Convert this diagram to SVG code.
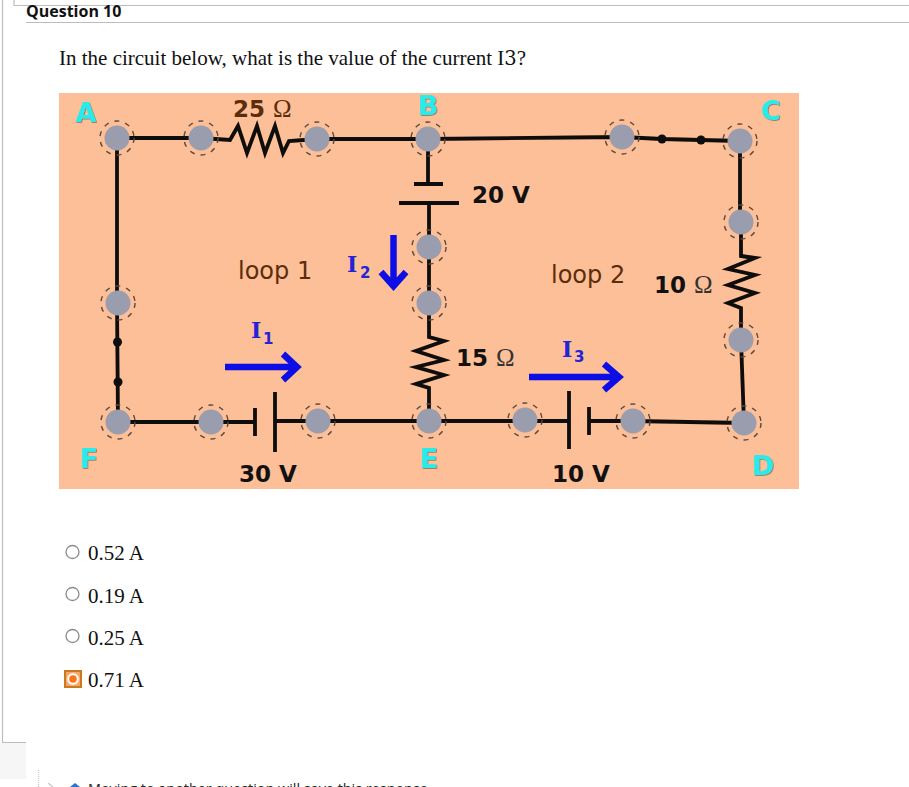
<svg xmlns="http://www.w3.org/2000/svg" width="909" height="787" viewBox="0 0 909 787">
<defs>
<filter id="soft" x="-20%" y="-20%" width="140%" height="140%"><feGaussianBlur stdDeviation="0.4"/></filter>
<filter id="sh" x="-20%" y="-20%" width="150%" height="150%"><feDropShadow dx="0.800" dy="0.800" stdDeviation="0.500" flood-color="#6b5a48" flood-opacity="0.800"/></filter>
<g id="pt"><circle r="17" fill="none" stroke="#5a4a40" stroke-width="1.400" stroke-dasharray="5 6"/><circle r="12.500" fill="#9a9dae"/></g>
</defs>
<style>
.w{fill:none;stroke:#0c0a08;stroke-width:3.800;stroke-linejoin:miter}
.b{fill:none;stroke:#0a0a0a;stroke-width:3.800}
.cur{fill:none;stroke:#0a0ae6;stroke-width:6.500}
.serif{font-family:"Liberation Serif",serif;fill:#111}
.val{font-family:"DejaVu Sans",sans-serif;font-weight:700;font-size:23px;fill:#111}
.om{font-family:"Liberation Serif",serif;font-weight:400;fill:#333}
.let{font-family:"DejaVu Sans",sans-serif;font-weight:700;font-size:27px;fill:#28ecec;text-anchor:middle;filter:url(#sh)}
.loop{font-family:"DejaVu Sans",sans-serif;font-size:24px;fill:#5c2d0c}
.ic{font-family:"DejaVu Serif",serif;font-weight:700;font-size:22px;fill:#2323d8}
.sub{font-family:"DejaVu Sans",sans-serif;font-weight:700;font-size:15px;fill:#2323d8}
.radio{fill:#fff;stroke:#8c8c8c;stroke-width:1.300}
</style>
<rect width="909" height="787" fill="#fff"/>
<g id="page">
<rect x="0" y="743" width="26" height="36" fill="#f6f6f6"/>
<path d="M14 0V5.500H909M2.500 0V742.500H26M26 22.500H909" fill="none" stroke="#bcbcbc" stroke-width="1.200"/>
<text x="26" y="17" font-family="'Open Sans',sans-serif" font-weight="700" font-size="16" fill="#111">Question 10</text>
<text class="serif" x="59" y="65" font-size="21">In the circuit below, what is the value of the current I<tspan font-family="'DejaVu Serif',serif" font-size="19.500">3</tspan>?</text>
<rect x="59" y="93" width="740" height="396" fill="#fdbf97"/>
<text x="88" y="794" font-family="'Open Sans',sans-serif" font-size="14.400" fill="#222">Moving to another question will save this response.</text>
<path d="M70 787L75 783L80 787Z" fill="#2a72d8"/>
<path d="M38.500 770V787" fill="none" stroke="#ccc" stroke-width="1.500" stroke-dasharray="1 1"/>
<path d="M48 783L53 787" fill="none" stroke="#ccc" stroke-width="1.500"/>
</g>
<g id="connectors" filter="url(#soft)">
<path class="w" d="M117 138H201L230 140L238 126L247 153L257 126L265 153L275 126L283 153L289 141L317 139H428L622 137L662 139L701 140L740 141"/>
<path class="w" d="M117 138V303L118 422"/>
<circle cx="117.500" cy="342" r="4.500" fill="#0c0a08"/><circle cx="118" cy="382" r="4.500" fill="#0c0a08"/>
<circle cx="662" cy="139" r="4.500" fill="#0c0a08"/><circle cx="701" cy="140" r="4.500" fill="#0c0a08"/>
<path class="w" d="M118 422H255M275 421H429H569M589 421H633L744 423"/>
<path class="b" d="M255 408V436M275 392V452M569 391V449M589 407V435"/>
<path class="w" d="M428 139V184M429 202V337L444 341L416 351L444 360L416 367L444 375L416 384L429 388V421"/>
<path class="b" d="M414 184H443M399 203H459"/>
<path class="w" d="M740 141V222L741 222V256L755 258L728 269L755 275L728 285L755 293L728 303L741 308V340L744 423"/>
<path class="cur" d="M225 367H296M283 354L297 367L283 380"/>
<path class="cur" d="M529 377H618M604 364L619 377L604 390"/>
<path class="cur" d="M393.500 235V286M381 272L393.500 286L406 272"/>
</g>
<g id="node-A"><use href="#pt" x="117" y="138"/><text class="let" x="86" y="122">A</text></g>
<g id="node-t1"><use href="#pt" x="201" y="138"/></g>
<g id="node-t2"><use href="#pt" x="317" y="139"/></g>
<g id="node-B"><use href="#pt" x="428" y="139"/><text class="let" x="428" y="115">B</text></g>
<g id="node-t3"><use href="#pt" x="622" y="137"/></g>
<g id="node-C"><use href="#pt" x="740" y="141"/><text class="let" x="771" y="120">C</text></g>
<g id="node-r1"><use href="#pt" x="741" y="222"/></g>
<g id="node-r2"><use href="#pt" x="741" y="340"/></g>
<g id="node-D"><use href="#pt" x="744" y="423"/><text class="let" x="763" y="475">D</text></g>
<g id="node-b4"><use href="#pt" x="633" y="421"/></g>
<g id="node-b3"><use href="#pt" x="525" y="420"/></g>
<g id="node-E"><use href="#pt" x="429" y="421"/><text class="let" x="429" y="468">E</text></g>
<g id="node-b2"><use href="#pt" x="318" y="421"/></g>
<g id="node-b1"><use href="#pt" x="211" y="422"/></g>
<g id="node-F"><use href="#pt" x="118" y="422"/><text class="let" x="89" y="468">F</text></g>
<g id="node-l"><use href="#pt" x="118" y="303"/></g>
<g id="node-m1"><use href="#pt" x="429" y="247"/></g>
<g id="node-m2"><use href="#pt" x="429" y="303"/></g>
<g id="labels">
<text class="val" x="233" y="117" style="fill:#5c2d0c">25 <tspan class="om" style="fill:#5c2d0c" font-size="25">Ω</tspan></text>
<text class="val" x="472" y="203">20 V</text>
<text class="val" x="239" y="482">30 V</text>
<text class="val" x="552" y="482">10 V</text>
<text class="val" x="654" y="293">10 <tspan class="om" font-size="25">Ω</tspan></text>
<text class="val" x="456" y="366">15 <tspan class="om" font-size="25">Ω</tspan></text>
<text class="loop" x="238" y="279">loop 1</text>
<text class="loop" x="551" y="283">loop 2</text>
<text class="ic" x="347" y="272">I</text><text class="sub" x="360" y="278">2</text>
<text class="ic" x="251" y="338">I</text><text class="sub" x="263" y="344">1</text>
<text class="ic" x="562" y="357">I</text><text class="sub" x="574" y="362">3</text>
</g>
<g id="options">
<circle class="radio" cx="72.500" cy="552" r="6.500"/>
<text class="serif" x="88" y="560" font-size="21">0.52 A</text>
<circle class="radio" cx="72.500" cy="594" r="6.500"/>
<text class="serif" x="88" y="603" font-size="21">0.19 A</text>
<circle class="radio" cx="72.500" cy="636" r="6.500"/>
<text class="serif" x="88" y="645" font-size="21">0.25 A</text>
<rect x="65" y="671" width="16" height="16" fill="#f7a468" stroke="#c87a1c" stroke-width="2"/>
<circle cx="73" cy="679" r="6" fill="#fff" stroke="#fbd0b0" stroke-width="1"/>
<circle cx="73" cy="679" r="3.800" fill="#ff7410"/>
<text class="serif" x="88" y="687" font-size="21">0.71 A</text>
</g>
</svg>
